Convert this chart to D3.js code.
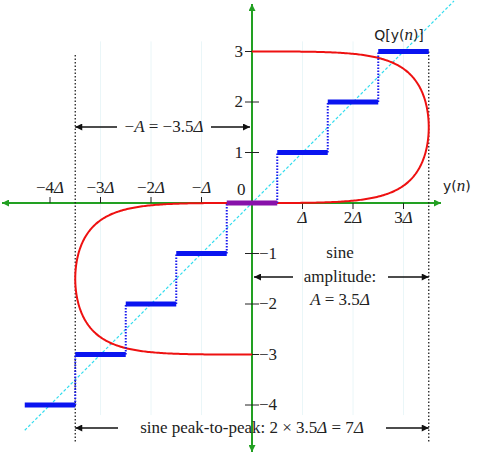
<!DOCTYPE html>
<html>
<head>
<meta charset="utf-8">
<script src="https://cdn.jsdelivr.net/npm/d3@7"></script>
<style>
  body { margin: 0; background: #fff; }
  text { font-family: 'Liberation Serif', 'DejaVu Serif', serif; font-size: 17px; fill: #222; }
  .it { font-style: italic; }
</style>
</head>
<body>
<div id="chart-container"></div>
<script>
// quantizer levels and their input ranges (in units of Δ)
const levels = [-4, -3, -2, -1, 0, 1, 2, 3]
const levelStart = [-4.5, -3.5, -2.5, -1.5, -0.5, 0.5, 1.5, 2.5]
const levelEnd = [-3.5, -2.5, -1.5, -0.5, 0.5, 1.5, 2.5, 3.5]
const xTicks = [-4, -3, -2, -1, 1, 2, 3]
const xTickLabels = ['−4', '−3', '−2', '−', '', '2', '3']
const yTicks = [3, 2, 1, -1, -2, -3, -4]
const amplitude = 3.5

const width = 480
const height = 454
const green = '#22a022'

const svg = d3.select('#chart-container').append('svg')
  .attr('width', width).attr('height', height)

const x = d3.scaleLinear().domain([0, 1]).range([252, 302.5])
const y = d3.scaleLinear().domain([0, 1]).range([203, 152.5])

const defs = svg.append('defs')
const marker = (id, color, w, h) => defs.append('marker')
  .attr('id', id).attr('viewBox', '0 0 10 10').attr('refX', 10).attr('refY', 5)
  .attr('markerWidth', w).attr('markerHeight', h).attr('orient', 'auto-start-reverse')
  .attr('markerUnits', 'userSpaceOnUse')
  .append('path').attr('d', 'M0,0 L10,5 L0,10 Z').attr('fill', color)
marker('ga', green, 9, 7)
marker('ba', '#111', 13, 7)

// faint grid lines
svg.append('g').selectAll('line').data([-3, -2, -1, 1, 2, 3]).join('line')
  .attr('x1', d => x(d)).attr('x2', d => x(d))
  .attr('y1', y(3.2)).attr('y2', y(-4.2))
  .attr('stroke', '#eaf6f8').attr('stroke-width', 1)

// diagonal y = x
svg.append('line')
  .attr('x1', x(-4.5)).attr('y1', y(-4.5)).attr('x2', x(4)).attr('y2', y(4))
  .attr('stroke', '#33ddee').attr('stroke-width', 1.2).attr('stroke-dasharray', '3,2')

// axes
svg.append('line').attr('x1', 2).attr('x2', 441).attr('y1', y(0)).attr('y2', y(0))
  .attr('stroke', green).attr('stroke-width', 2)
  .attr('marker-start', 'url(#ga)').attr('marker-end', 'url(#ga)')
svg.append('line').attr('x1', x(0)).attr('x2', x(0)).attr('y1', 4).attr('y2', 452)
  .attr('stroke', green).attr('stroke-width', 2)
  .attr('marker-start', 'url(#ga)').attr('marker-end', 'url(#ga)')

// x ticks
const xt = svg.append('g').selectAll('g').data(xTicks).join('g')
xt.append('line')
  .attr('x1', d => x(d)).attr('x2', d => x(d))
  .attr('y1', d => d < 0 ? y(0) - 6 : y(0)).attr('y2', d => d < 0 ? y(0) : y(0) + 6)
  .attr('stroke', '#222')
const xl = xt.append('text')
  .attr('x', d => x(d)).attr('y', d => d < 0 ? y(0) - 10 : y(0) + 20)
  .attr('text-anchor', 'middle')
xl.append('tspan').text((d, i) => xTickLabels[i])
xl.append('tspan').attr('class', 'it').text('Δ')
svg.append('text').attr('x', x(0) - 15).attr('y', y(0) - 8).text('0')
const yn = svg.append('text').attr('x', 443).attr('y', y(0) - 12)
yn.append('tspan').attr('font-family', 'DejaVu Sans').attr('font-size', 14).text('y(')
yn.append('tspan').attr('class', 'it').text('n')
yn.append('tspan').attr('font-family', 'DejaVu Sans').attr('font-size', 14).text(')')

// y ticks
const yt = svg.append('g').selectAll('g').data(yTicks).join('g')
yt.append('line')
  .attr('x1', x(0) - 7).attr('x2', x(0) + 7)
  .attr('y1', d => y(d)).attr('y2', d => y(d)).attr('stroke', '#222')
yt.append('text')
  .attr('x', d => d > 0 ? x(0) - 9 : x(0) + 7).attr('y', d => y(d) + 5)
  .attr('text-anchor', d => d > 0 ? 'end' : 'start')
  .text(d => d < 0 ? '−' + (-d) : d)

// dotted amplitude bounds
svg.append('g').selectAll('line').data([-amplitude, amplitude]).join('line')
  .attr('x1', d => x(d)).attr('x2', d => x(d))
  .attr('y1', d => d < 0 ? 55 : y(3)).attr('y2', 442)
  .attr('stroke', '#222').attr('stroke-width', 1.3).attr('stroke-dasharray', '1.5,2')

// red sine (time runs vertically)
const ease = u => Math.pow(u, 1.8) / (Math.pow(u, 1.8) + Math.pow(1 - u, 1.8))
const t = d3.range(-Math.PI, Math.PI + 0.001, Math.PI / 300)
const sine = t.map(a => [amplitude * Math.sin(a), Math.sign(a) * 3 * ease((1 - Math.cos(a)) / 2)])
svg.append('path')
  .attr('d', d3.line().x(d => x(d[0])).y(d => y(d[1]))(sine))
  .attr('fill', 'none').attr('stroke', '#ee1111').attr('stroke-width', 2)

// staircase risers
const risers = levels.slice(1).map((l, i) => [levelStart[i + 1], levels[i], l])
svg.append('g').selectAll('line').data(risers).join('line')
  .attr('x1', d => x(d[0])).attr('x2', d => x(d[0]))
  .attr('y1', d => y(d[1])).attr('y2', d => y(d[2]))
  .attr('stroke', '#1a1aee').attr('stroke-width', 2).attr('stroke-dasharray', '1.5,1.5')

// staircase treads
svg.append('g').selectAll('line').data(levels).join('line')
  .attr('x1', (d, i) => x(levelStart[i])).attr('x2', (d, i) => x(levelEnd[i]))
  .attr('y1', d => y(d)).attr('y2', d => y(d))
  .attr('stroke', d => d === 0 ? '#8811aa' : '#0a14f0').attr('stroke-width', 5)

const q = svg.append('text').attr('x', 399).attr('y', 40).attr('text-anchor', 'middle')
q.append('tspan').attr('font-family', 'DejaVu Sans').attr('font-size', 14).text('Q[y(')
q.append('tspan').attr('class', 'it').text('n')
q.append('tspan').attr('font-family', 'DejaVu Sans').attr('font-size', 14).text(')]')

// annotations
function arrowLabel(x1, x2, yy, gapL, gapR) {
  svg.append('line').attr('x1', gapL).attr('x2', x1).attr('y1', yy).attr('y2', yy)
    .attr('stroke', '#111').attr('stroke-width', 1.5).attr('marker-end', 'url(#ba)')
  svg.append('line').attr('x1', gapR).attr('x2', x2).attr('y1', yy).attr('y2', yy)
    .attr('stroke', '#111').attr('stroke-width', 1.5).attr('marker-end', 'url(#ba)')
}
function label(tx, ty, parts) {
  const el = svg.append('text').attr('x', tx).attr('y', ty).attr('text-anchor', 'middle')
  parts.forEach(p => el.append('tspan').attr('class', p[1] ? 'it' : null).text(p[0]))
}
arrowLabel(x(-amplitude), x(0) - 2, 127, 117, 211)
label(164, 132, [['−', 0], ['A', 1], [' = −3.5', 0], ['Δ', 1]])

arrowLabel(x(0) + 2, x(amplitude), 277, 293, 388)
label(340, 258, [['sine', 0]])
label(340, 282, [['amplitude:', 0]])
label(340, 305, [['A', 1], [' = 3.5', 0], ['Δ', 1]])

arrowLabel(x(-amplitude), x(amplitude), 428, 118, 386)
label(252, 433, [['sine peak-to-peak: 2 × 3.5', 0], ['Δ', 1], [' = 7', 0], ['Δ', 1]])
</script>
</body>
</html>
